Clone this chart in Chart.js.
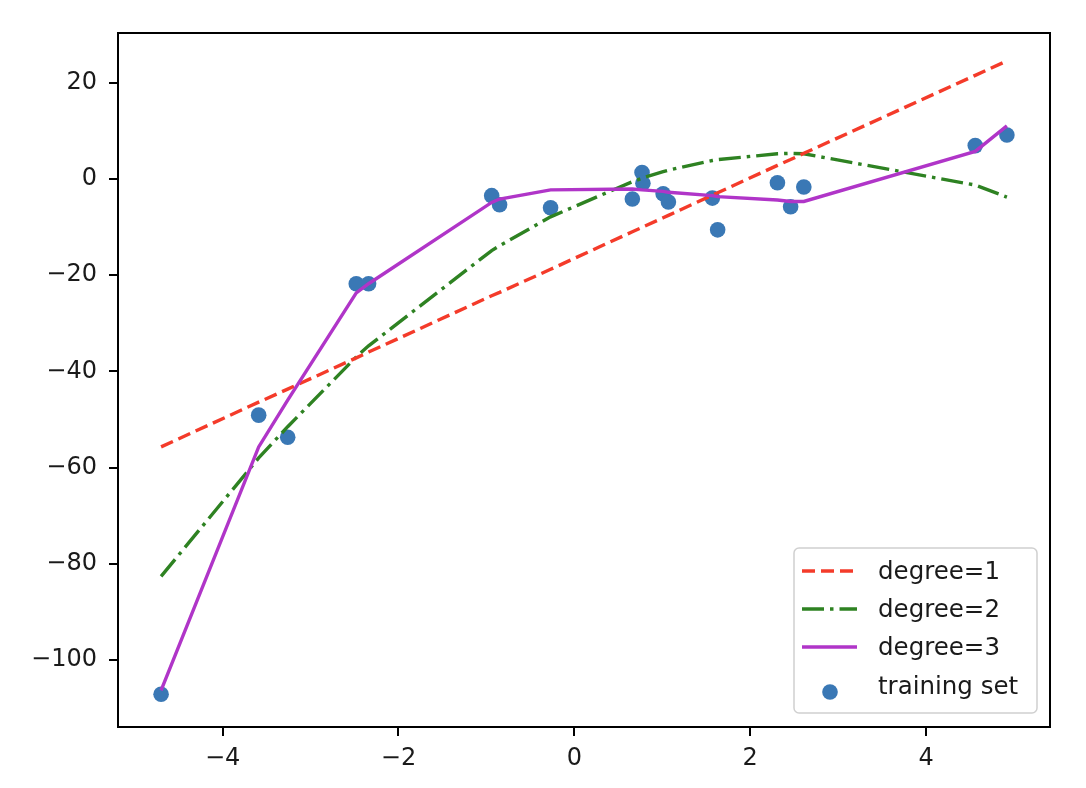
<!DOCTYPE html>
<html>
<head>
<meta charset="utf-8">
<script src="https://cdn.jsdelivr.net/npm/chart.js@4.4.0/dist/chart.umd.min.js"></script>
<style>
  html, body { margin: 0; padding: 0; background: #fff; }
  #wrap { width: 1086px; height: 788px; }
</style>
</head>
<body>
<div id="wrap"><canvas id="myChart" width="1086" height="788"></canvas></div>
<script>
// x positions of the training samples (sorted)
let xs = [-4.70, -3.59, -3.26, -2.48, -2.34, -0.94, -0.85, -0.27, 0.66, 0.77,
          0.78, 1.01, 1.07, 1.57, 1.63, 2.31, 2.46, 2.61, 4.56, 4.92];
// training targets
let yTrain = [-107.1, -49.1, -53.7, -21.8, -21.8, -3.5, -5.4, -6.0, -4.2, 1.3,
              -0.9, -3.1, -4.8, -4.0, -10.6, -0.8, -5.8, -1.7, 6.9, 9.1];
// fitted curves, read at the same x positions
let deg1 = [-55.7, -46.4, -43.7, -37.2, -36.0, -24.3, -23.6, -18.8, -11.0, -10.1,
            -10.0, -8.1, -7.6, -3.4, -2.9, 2.8, 4.0, 5.3, 21.5, 24.5];
let deg2 = [-82.6, -58.0, -51.5, -37.0, -34.7, -14.9, -13.9, -7.9, -0.6, 0.1,
            0.2, 1.5, 1.8, 3.8, 4.0, 5.2, 5.3, 5.2, -1.3, -3.8];
let deg3 = [-106.3, -55.7, -46.0, -23.7, -21.8, -4.9, -4.2, -2.3, -2.1, -2.3,
            -2.3, -2.6, -2.8, -3.5, -3.7, -4.4, -4.7, -4.7, 5.7, 11.0];

let labels = ['degree=1', 'degree=2', 'degree=3', 'training set'];
let xTicks = [-4, -2, 0, 2, 4];
let yTicks = [-100, -80, -60, -40, -20, 0, 20];

const FONT = 'DejaVu Sans';

function pts(ys) {
  return xs.map((x, i) => ({x: x, y: ys[i]}));
}

function fmt(v) {
  return v < 0 ? '\u2212' + Math.abs(v) : String(v);
}

// black frame round the plot area
const frame = {
  id: 'frame',
  afterDatasetsDraw(chart) {
    let ctx = chart.ctx, a = chart.chartArea;
    ctx.save();
    ctx.strokeStyle = '#000';
    ctx.lineWidth = 2;
    ctx.strokeRect(a.left, a.top, a.right - a.left, a.bottom - a.top);
    ctx.restore();
  }
};

// matplotlib-like legend box in the lower right corner
const legendBox = {
  id: 'legendBox',
  afterDraw(chart) {
    let ctx = chart.ctx, a = chart.chartArea;
    let w = 243, h = 165;
    let x0 = a.right - 13 - w, y0 = a.bottom - 14 - h;
    ctx.save();
    ctx.beginPath();
    ctx.roundRect(x0, y0, w, h, 5);
    ctx.fillStyle = 'rgba(255,255,255,0.8)';
    ctx.fill();
    ctx.strokeStyle = '#d0d0d0';
    ctx.lineWidth = 1.5;
    ctx.stroke();

    let rows = [24, 62, 100, 139];
    chart.data.datasets.forEach((ds, i) => {
      let y = y0 + rows[i];
      if (ds.showLine) {
        ctx.beginPath();
        ctx.setLineDash(ds.borderDash || []);
        ctx.strokeStyle = ds.borderColor;
        ctx.lineWidth = ds.borderWidth;
        ctx.moveTo(x0 + 8, y - 1);
        ctx.lineTo(x0 + 63, y - 1);
        ctx.stroke();
        ctx.setLineDash([]);
      } else {
        ctx.beginPath();
        ctx.fillStyle = ds.pointBackgroundColor;
        ctx.arc(x0 + 36, y + 5, ds.pointRadius, 0, Math.PI * 2);
        ctx.fill();
      }
      ctx.fillStyle = '#1a1a1a';
      ctx.font = '24.5px "' + FONT + '"';
      ctx.textBaseline = 'middle';
      ctx.textAlign = 'left';
      ctx.fillText(ds.label, x0 + 84, y + 1);
    });
    ctx.restore();
  }
};

let chart = document.getElementById('myChart');

const config = {
  type: 'scatter',
  data: {
    datasets: [
      {
        label: labels[0], data: pts(deg1), showLine: true,
        borderColor: '#f43b2a', borderWidth: 3.4, borderDash: [13, 6],
        pointRadius: 0, fill: false, order: 2
      },
      {
        label: labels[1], data: pts(deg2), showLine: true,
        borderColor: '#2e8222', borderWidth: 3.4, borderDash: [22, 6, 3.5, 6],
        pointRadius: 0, fill: false, order: 2
      },
      {
        label: labels[2], data: pts(deg3), showLine: true,
        borderColor: '#b035c8', borderWidth: 3.4,
        pointRadius: 0, fill: false, order: 1
      },
      {
        label: labels[3], data: pts(yTrain), showLine: false,
        pointBackgroundColor: '#3a78b5', pointBorderWidth: 0,
        pointRadius: 7.8, order: 3
      }
    ]
  },
  options: {
    responsive: false,
    animation: false,
    devicePixelRatio: 1,
    layout: { padding: { top: 33, right: 36, left: 0, bottom: 0 } },
    plugins: {
      legend: { display: false },
      tooltip: { enabled: false }
    },
    scales: {
      x: {
        type: 'linear',
        min: -5.19,
        max: 5.41,
        afterBuildTicks: function(axis) { axis.ticks = xTicks.map(v => ({value: v})); },
        afterFit: function(s) { s.height = 61; },
        border: { display: false },
        grid: { drawOnChartArea: false, drawTicks: true, tickLength: 9, color: '#000', lineWidth: 2 },
        ticks: {
          color: '#1a1a1a', padding: 8, maxRotation: 0,
          font: { family: FONT, size: 24 },
          callback: fmt
        }
      },
      y: {
        type: 'linear',
        min: -113.9,
        max: 30.3,
        afterBuildTicks: function(axis) { axis.ticks = yTicks.map(v => ({value: v})); },
        afterFit: function(s) { s.width = 118; },
        border: { display: false },
        grid: { drawOnChartArea: false, drawTicks: true, tickLength: 9, color: '#000', lineWidth: 2 },
        ticks: {
          color: '#1a1a1a', padding: 12,
          font: { family: FONT, size: 24 },
          callback: fmt
        }
      }
    }
  },
  plugins: [frame, legendBox]
};

var myChart = new Chart(chart, config);
</script>
</body>
</html>
